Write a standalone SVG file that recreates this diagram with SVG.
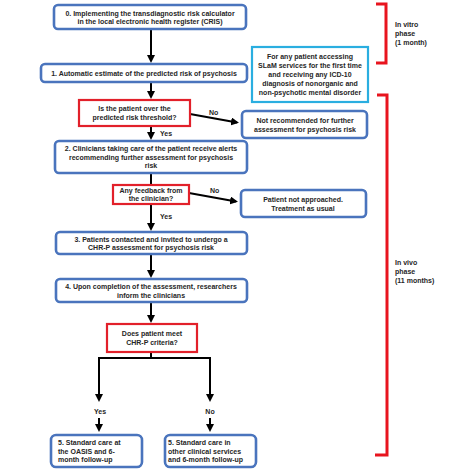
<svg xmlns="http://www.w3.org/2000/svg" width="474" height="474" viewBox="0 0 474 474">
<style>
text{font-family:"Liberation Sans",Arial,sans-serif;font-weight:bold;font-size:7px;fill:#262626}
.c{text-anchor:middle}
.b{fill:#fff;stroke:#4a74bd;stroke-width:2.6}
.r{fill:#fff;stroke:#e2202a;stroke-width:2.2}
.cy{fill:#fff;stroke:#2aaee0;stroke-width:2.2}
.ln{fill:none;stroke:#000;stroke-width:2}
.br{fill:none;stroke:#e8141e;stroke-width:3}
</style>
<defs>
<marker id="ah" markerWidth="4" markerHeight="4" refX="3" refY="2" orient="auto" markerUnits="strokeWidth"><path d="M0,0 L4,2 L0,4 Z" fill="#000"/></marker>
</defs>
<rect width="474" height="474" fill="#fff"/>
<g id="connectors">
<line class="ln" x1="151" y1="29" x2="151" y2="61" marker-end="url(#ah)"/>
<line class="ln" x1="151" y1="82" x2="151" y2="97" marker-end="url(#ah)"/>
<line class="ln" x1="190" y1="114" x2="237" y2="122.5" marker-end="url(#ah)"/>
<text x="209" y="115">No</text>
<line class="ln" x1="151" y1="126" x2="151" y2="138" marker-end="url(#ah)"/>
<text x="160" y="136">Yes</text>
<line class="ln" x1="151" y1="173" x2="151" y2="184"/>
<line class="ln" x1="189" y1="193" x2="236" y2="201.5" marker-end="url(#ah)"/>
<text x="210" y="193">No</text>
<line class="ln" x1="151" y1="204" x2="151" y2="229" marker-end="url(#ah)"/>
<text x="160" y="219">Yes</text>
<line class="ln" x1="151" y1="254" x2="151" y2="276" marker-end="url(#ah)"/>
<line class="ln" x1="151" y1="302" x2="151" y2="321" marker-end="url(#ah)"/>
<polyline class="ln" points="151,352 151,358 99,358 99,400" marker-end="url(#ah)"/>
<polyline class="ln" points="151,358 210,358 210,400" marker-end="url(#ah)"/>
<text class="c" x="100" y="414">Yes</text>
<text class="c" x="210" y="414">No</text>
<line class="ln" x1="99" y1="418" x2="99" y2="430" marker-end="url(#ah)"/>
<line class="ln" x1="210" y1="418" x2="210" y2="430" marker-end="url(#ah)"/>
</g>
<g id="n0"><rect class="b" x="54" y="5" width="192" height="24" rx="4"/>
<text class="c" x="150" y="15.5">0. Implementing the transdiagnostic risk calculator</text>
<text class="c" x="150" y="24">in the local electronic health register (CRIS)</text></g>
<g id="n1"><rect class="b" x="41" y="64" width="206" height="18" rx="4"/>
<text class="c" x="144" y="75.5">1. Automatic estimate of the predicted risk of psychosis</text></g>
<g id="ncy"><rect class="cy" x="252" y="47" width="116" height="55"/>
<text class="c" x="310" y="59">For any patient accessing</text>
<text class="c" x="310" y="68">SLaM services for the first time</text>
<text class="c" x="310" y="77">and receiving any ICD-10</text>
<text class="c" x="310" y="86">diagnosis of nonorganic and</text>
<text class="c" x="310" y="95">non-psychotic mental disorder</text></g>
<g id="d1"><rect class="r" x="79" y="100" width="111" height="26"/>
<text class="c" x="134.5" y="111">Is the patient over the</text>
<text class="c" x="134.5" y="119.5">predicted risk threshold?</text></g>
<g id="nnr"><rect class="b" x="242" y="111" width="125" height="27" rx="4"/>
<text class="c" x="305" y="123">Not recommended for further</text>
<text class="c" x="305" y="132">assessment for psychosis risk</text></g>
<g id="n2"><rect class="b" x="55" y="141" width="192" height="32" rx="4"/>
<text class="c" x="151" y="151">2. Clinicians taking care of the patient receive alerts</text>
<text class="c" x="151" y="159.5">recommending further assessment for psychosis</text>
<text class="c" x="151" y="168">risk</text></g>
<g id="d2"><rect class="r" x="113" y="185" width="76" height="19"/>
<text class="c" x="151" y="193">Any feedback from</text>
<text class="c" x="151" y="201">the clinician?</text></g>
<g id="nna"><rect class="b" x="241" y="190" width="125" height="27" rx="4"/>
<text class="c" x="303" y="201.5">Patient not approached.</text>
<text class="c" x="303" y="210.5">Treatment as usual</text></g>
<g id="n3"><rect class="b" x="56" y="232" width="191" height="22" rx="4"/>
<text class="c" x="151" y="241.5">3. Patients contacted and invited to undergo a</text>
<text class="c" x="151" y="250">CHR-P assessment for psychosis risk</text></g>
<g id="n4"><rect class="b" x="56" y="279" width="191" height="23" rx="4"/>
<text class="c" x="151" y="289">4. Upon completion of the assessment, researchers</text>
<text class="c" x="151" y="297.5">inform the clinicians</text></g>
<g id="d3"><rect class="r" x="107" y="324" width="90" height="28"/>
<text class="c" x="152" y="336">Does patient meet</text>
<text class="c" x="152" y="345">CHR-P criteria?</text></g>
<g id="n5a"><rect class="b" x="51" y="435" width="91" height="32" rx="5"/>
<text x="58" y="445">5. Standard care at</text>
<text x="58" y="453.5">the OASIS and 6-</text>
<text x="58" y="462">month follow-up</text></g>
<g id="n5b"><rect class="b" x="165" y="435" width="91" height="32" rx="5"/>
<text x="168" y="445">5. Standard care in</text>
<text x="168" y="453.5">other clinical services</text>
<text x="168" y="462">and 6-month follow-up</text></g>
<g id="phases">
<polyline class="br" points="376,4 386,4 386,63 376,63"/>
<text x="395" y="27">In vitro</text>
<text x="395" y="36">phase</text>
<text x="395" y="45">(1 month)</text>
<polyline class="br" points="377,95 387,95 387,455 375,455"/>
<text x="395" y="265">In vivo</text>
<text x="395" y="274">phase</text>
<text x="395" y="283">(11 months)</text>
</g>
</svg>
